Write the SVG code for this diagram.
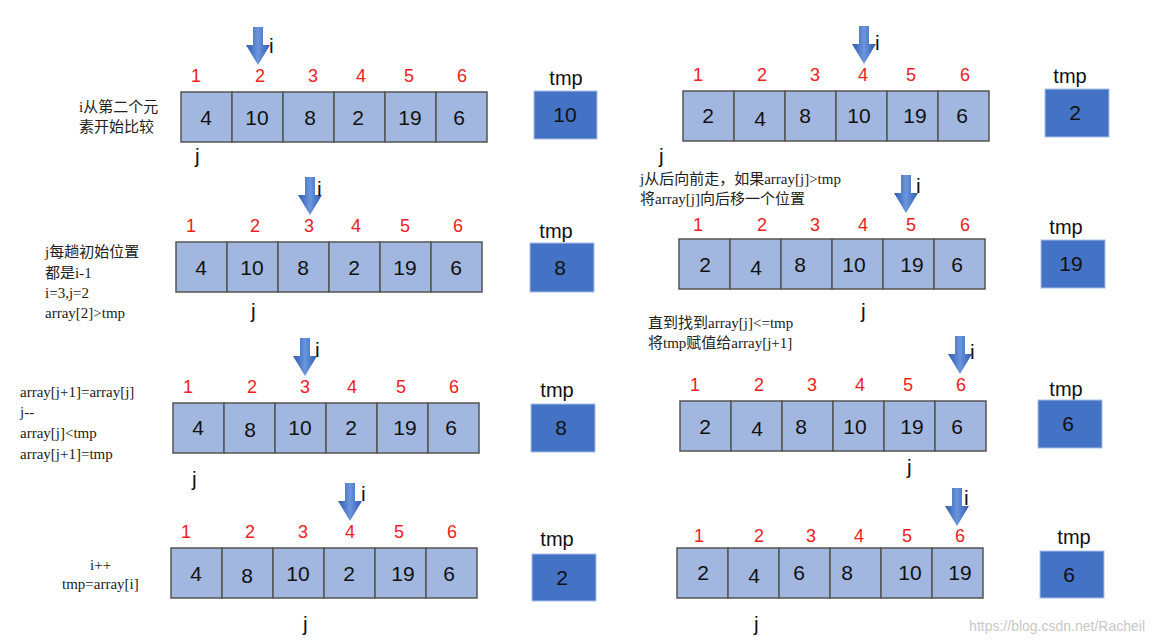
<svg xmlns="http://www.w3.org/2000/svg" xmlns:xlink="http://www.w3.org/1999/xlink" width="1155" height="642" viewBox="0 0 1155 642">
<style>
.cell{fill:#a1b7df;stroke:#555;stroke-width:1.5}
.tbox{fill:#4472c4;stroke:#a9bfe6;stroke-width:1}
.v{font-family:"Liberation Sans",Arial,sans-serif;font-size:21px;fill:#111;text-anchor:middle}
.n{font-family:"Liberation Sans",Arial,sans-serif;font-size:18px;fill:#f02020;text-anchor:middle}
.t{font-family:"Liberation Sans",Arial,sans-serif;font-size:20px;fill:#111;text-anchor:middle}
.l{font-family:"Liberation Sans",Arial,sans-serif;font-size:21px;fill:#111}
.c{font-family:"Liberation Serif","Noto Sans CJK SC",serif;font-size:15px;fill:#222}
</style>
<defs>
<linearGradient id="ag" x1="0" x2="1" y1="0" y2="0"><stop offset="0" stop-color="#2d5bb0"/><stop offset="0.5" stop-color="#6b95dc"/><stop offset="1" stop-color="#2d5bb0"/></linearGradient>
<path id="arr" d="M-5,-38 H5 V-20 H12 L0,0 L-12,-20 H-5 Z" fill="url(#ag)"/>
<g id="row">
<rect class="cell" x="0" y="0" width="51" height="50"/><rect class="cell" x="51" y="0" width="51" height="50"/><rect class="cell" x="102" y="0" width="51" height="50"/><rect class="cell" x="153" y="0" width="51" height="50"/><rect class="cell" x="204" y="0" width="51" height="50"/><rect class="cell" x="255" y="0" width="51" height="50"/>
</g>
</defs>
<g id="L1">
<use xlink:href="#row" x="181" y="92"/><use xlink:href="#arr" x="258" y="65"/><text class="l" x="269" y="53">i</text>
<g class="n"><text x="196" y="82">1</text><text x="260" y="82">2</text><text x="313" y="82">3</text><text x="361" y="82">4</text><text x="409" y="82">5</text><text x="462" y="82">6</text></g>
<g class="v"><text x="206" y="125">4</text><text x="257" y="125">10</text><text x="310" y="125">8</text><text x="358" y="125">2</text><text x="410" y="125">19</text><text x="459" y="125">6</text></g>
<text class="l" x="195" y="163">j</text>
<text class="c" x="79" y="112">i从第二个元</text><text class="c" x="79" y="132">素开始比较</text>
<text class="t" x="566" y="85">tmp</text><rect class="tbox" x="534" y="91" width="63" height="48"/><text class="v" x="565" y="122" fill="#111">10</text>
</g>
<g id="L2">
<use xlink:href="#row" x="176" y="242"/><use xlink:href="#arr" x="310" y="215"/><text class="l" x="317" y="196">i</text>
<g class="n"><text x="191" y="232">1</text><text x="255" y="232">2</text><text x="309" y="232">3</text><text x="356" y="232">4</text><text x="405" y="232">5</text><text x="458" y="232">6</text></g>
<g class="v"><text x="201" y="275">4</text><text x="252" y="275">10</text><text x="303" y="275">8</text><text x="354" y="275">2</text><text x="405" y="275">19</text><text x="456" y="275">6</text></g>
<text class="l" x="251" y="318">j</text>
<text class="c" x="45" y="257">j每趟初始位置</text><text class="c" x="45" y="278">都是i-1</text><text class="c" x="45" y="298">i=3,j=2</text><text class="c" x="45" y="318">array[2]&gt;tmp</text>
<text class="t" x="556" y="238">tmp</text><rect class="tbox" x="530" y="243" width="64" height="49"/><text class="v" x="560" y="275">8</text>
</g>
<g id="L3">
<use xlink:href="#row" x="173" y="403"/><use xlink:href="#arr" x="305" y="376"/><text class="l" x="315" y="357">i</text>
<g class="n"><text x="188" y="393">1</text><text x="252" y="393">2</text><text x="305" y="393">3</text><text x="352" y="393">4</text><text x="401" y="393">5</text><text x="454" y="393">6</text></g>
<g class="v"><text x="198" y="435">4</text><text x="250" y="437">8</text><text x="300" y="435">10</text><text x="351" y="435">2</text><text x="405" y="435">19</text><text x="451" y="435">6</text></g>
<text class="l" x="192" y="486">j</text>
<text class="c" x="20" y="397">array[j+1]=array[j]</text><text class="c" x="20" y="417">j--</text><text class="c" x="20" y="438">array[j]&lt;tmp</text><text class="c" x="20" y="459">array[j+1]=tmp</text>
<text class="t" x="557" y="397">tmp</text><rect class="tbox" x="531" y="404" width="64" height="48"/><text class="v" x="561" y="435">8</text>
</g>
<g id="L4">
<use xlink:href="#row" x="171" y="548"/><use xlink:href="#arr" x="350" y="521"/><text class="l" x="361" y="501">i</text>
<g class="n"><text x="186" y="538">1</text><text x="250" y="538">2</text><text x="303" y="538">3</text><text x="350" y="538">4</text><text x="399" y="538">5</text><text x="452" y="538">6</text></g>
<g class="v"><text x="196" y="581">4</text><text x="247" y="583">8</text><text x="298" y="581">10</text><text x="349" y="581">2</text><text x="403" y="581">19</text><text x="449" y="581">6</text></g>
<text class="l" x="303" y="631">j</text>
<text class="c" x="90" y="570">i++</text><text class="c" x="62" y="589">tmp=array[i]</text>
<text class="t" x="557" y="546">tmp</text><rect class="tbox" x="532" y="554" width="64" height="47"/><text class="v" x="562" y="585">2</text>
</g>
<g id="R1">
<use xlink:href="#row" x="683" y="91"/><use xlink:href="#arr" x="864" y="64"/><text class="l" x="875" y="50">i</text>
<g class="n"><text x="698" y="81">1</text><text x="762" y="81">2</text><text x="815" y="81">3</text><text x="863" y="81">4</text><text x="911" y="81">5</text><text x="965" y="81">6</text></g>
<g class="v"><text x="708" y="123">2</text><text x="760" y="126">4</text><text x="805" y="123">8</text><text x="859" y="123">10</text><text x="915" y="123">19</text><text x="962" y="123">6</text></g>
<text class="l" x="659" y="163">j</text>
<text class="t" x="1070" y="83">tmp</text><rect class="tbox" x="1045" y="89" width="64" height="48"/><text class="v" x="1075" y="120">2</text>
</g>
<g id="R2">
<use xlink:href="#row" x="679" y="239"/><use xlink:href="#arr" x="906" y="213"/><text class="l" x="916" y="193">i</text>
<g class="n"><text x="698" y="231">1</text><text x="762" y="231">2</text><text x="815" y="231">3</text><text x="863" y="231">4</text><text x="911" y="231">5</text><text x="965" y="231">6</text></g>
<g class="v"><text x="705" y="272">2</text><text x="756" y="275">4</text><text x="800" y="272">8</text><text x="854" y="272">10</text><text x="912" y="272">19</text><text x="957" y="272">6</text></g>
<text class="l" x="861" y="318">j</text>
<text class="c" x="640" y="184">j从后向前走，如果array[j]&gt;tmp</text><text class="c" x="640" y="204">将array[j]向后移一个位置</text>
<text class="t" x="1066" y="234">tmp</text><rect class="tbox" x="1041" y="240" width="64" height="48"/><text class="v" x="1071" y="271">19</text>
</g>
<g id="R3">
<use xlink:href="#row" x="680" y="401"/><use xlink:href="#arr" x="960" y="374"/><text class="l" x="970" y="359">i</text>
<g class="n"><text x="695" y="391">1</text><text x="759" y="391">2</text><text x="812" y="391">3</text><text x="860" y="391">4</text><text x="908" y="391">5</text><text x="961" y="391">6</text></g>
<g class="v"><text x="705" y="434">2</text><text x="757" y="436">4</text><text x="801" y="434">8</text><text x="855" y="434">10</text><text x="912" y="434">19</text><text x="957" y="434">6</text></g>
<text class="l" x="907" y="474">j</text>
<text class="c" x="648" y="328">直到找到array[j]&lt;=tmp</text><text class="c" x="648" y="348">将tmp赋值给array[j+1]</text>
<text class="t" x="1066" y="396">tmp</text><rect class="tbox" x="1038" y="400" width="64" height="48"/><text class="v" x="1068" y="431">6</text>
</g>
<g id="R4">
<use xlink:href="#row" x="677" y="548"/><use xlink:href="#arr" x="957" y="526"/><text class="l" x="964" y="505">i</text>
<g class="n"><text x="699" y="542">1</text><text x="759" y="542">2</text><text x="811" y="542">3</text><text x="859" y="542">4</text><text x="907" y="542">5</text><text x="960" y="542">6</text></g>
<g class="v"><text x="703" y="580">2</text><text x="754" y="583">4</text><text x="799" y="580">6</text><text x="847" y="580">8</text><text x="910" y="580">10</text><text x="960" y="580">19</text></g>
<text class="l" x="754" y="631">j</text>
<text class="t" x="1074" y="544">tmp</text><rect class="tbox" x="1040" y="551" width="64" height="47"/><text class="v" x="1069" y="582">6</text>
</g>
<text x="1145" y="631" text-anchor="end" font-family="Liberation Sans,Arial,sans-serif" font-size="14" fill="#c8c8c8">https://blog.csdn.net/Racheil</text>
<g id="connectors"/>
</svg>
